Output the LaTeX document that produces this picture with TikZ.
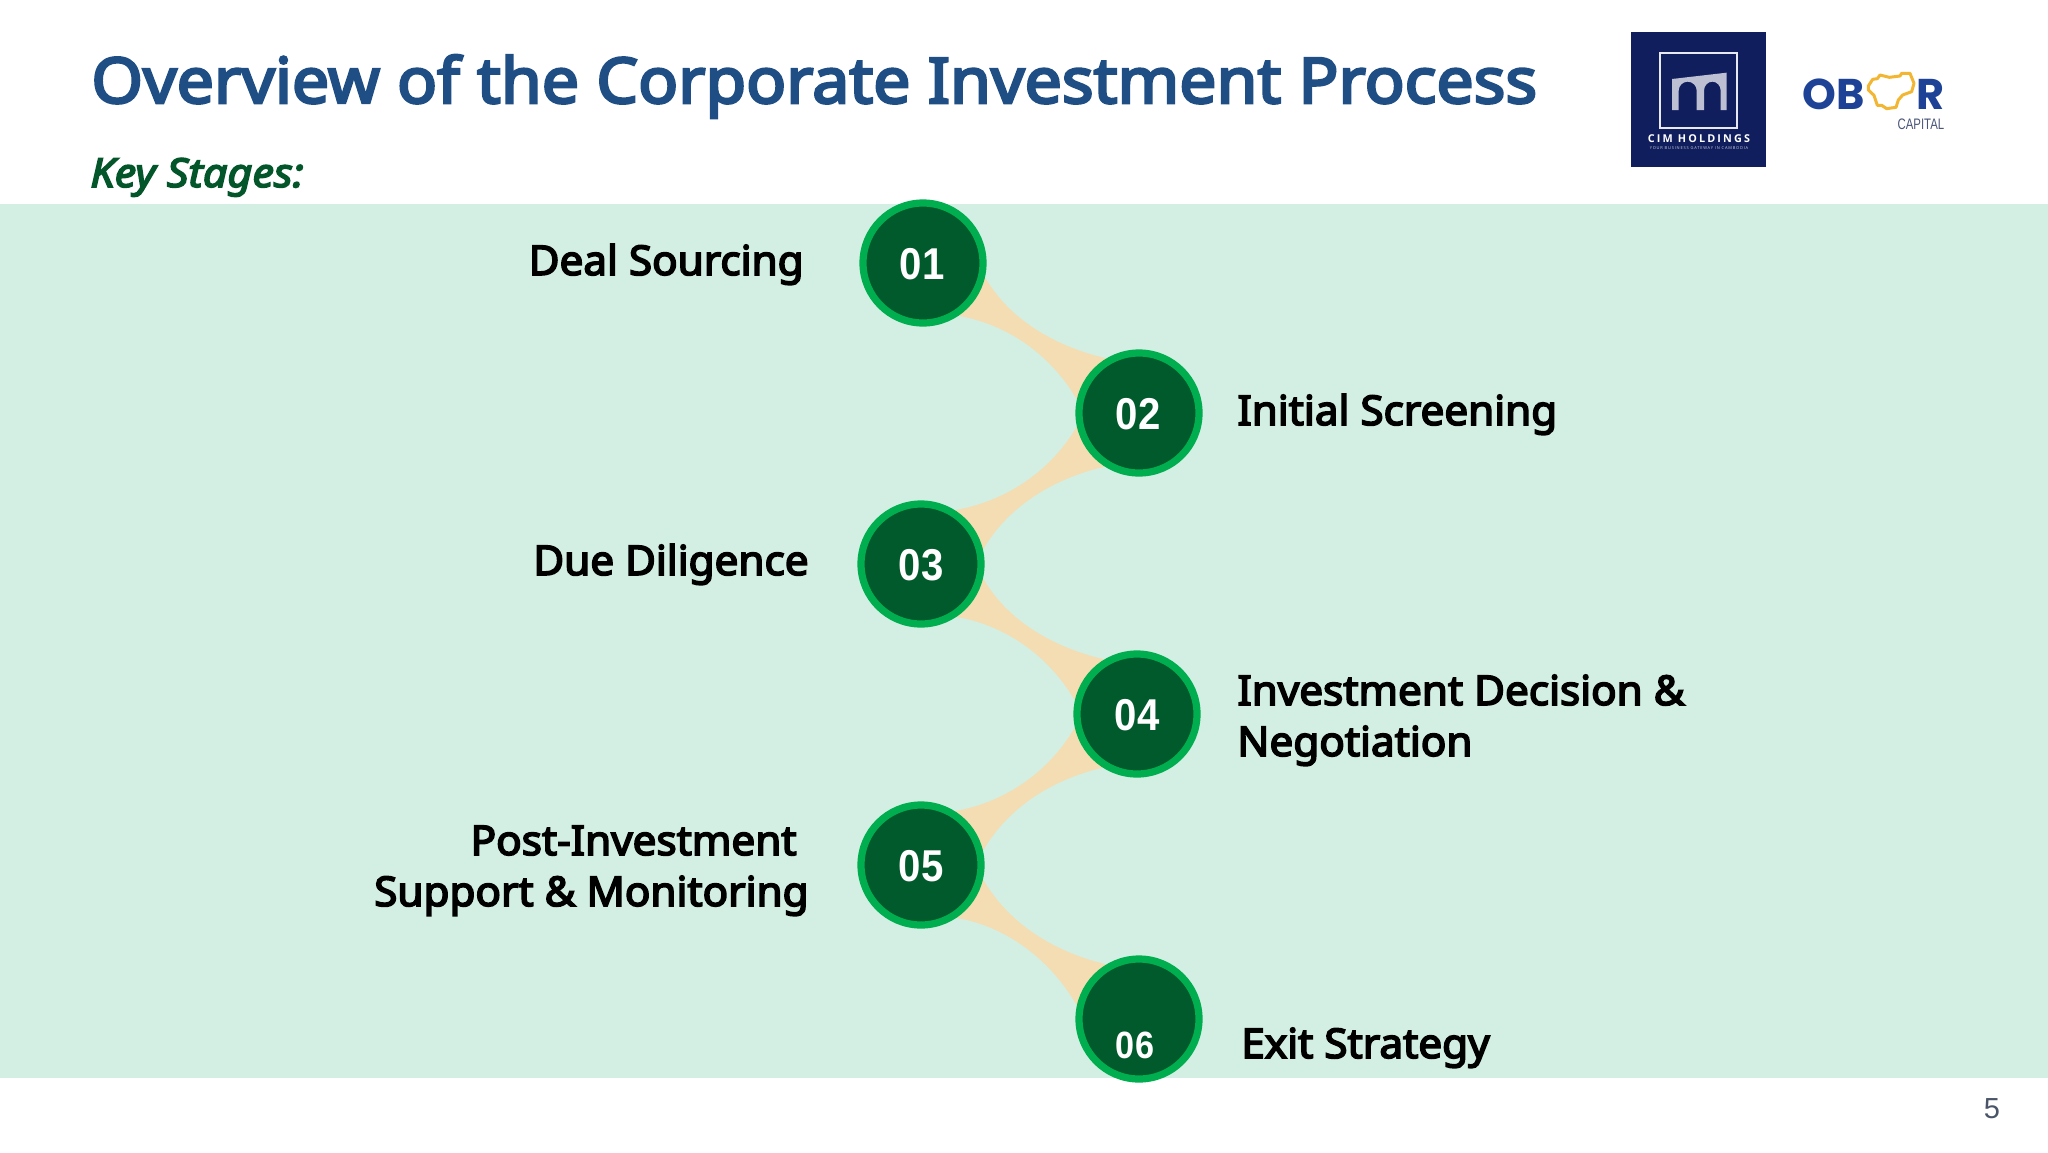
\documentclass[tikz,border=0pt]{standalone}
\usepackage{fontspec}
\setmainfont{Noto Sans}
\newfontfamily\titlef[FakeBold=4,FakeStretch=1.05]{Noto Sans}
\newfontfamily\lblf[FakeBold=4,FakeStretch=1.03]{Noto Sans}
\newfontfamily\keyf[FakeBold=4,FakeStretch=1.08,ItalicFeatures={FakeBold=4,FakeStretch=1.08}]{Noto Sans}
\newfontfamily\arialf{Liberation Sans}
\newfontfamily\numf[FakeStretch=0.9]{Liberation Sans}
\newfontfamily\capf[FakeStretch=0.75]{Liberation Sans}
\newfontfamily\popf{Poppins}
\newfontfamily\cimf[LetterSpace=20]{Open Sans}
\usetikzlibrary{backgrounds}
\definecolor{bandc}{HTML}{D3EFE3}
\definecolor{darkg}{HTML}{005A2B}
\definecolor{ringg}{HTML}{00AE50}
\definecolor{linkc}{HTML}{F4DDB2}
\definecolor{titlec}{HTML}{1F4E85}
\definecolor{keyc}{HTML}{03562A}
\definecolor{navyc}{HTML}{101E5E}
\definecolor{oborb}{HTML}{1D4296}
\definecolor{oborg}{HTML}{F2B632}
\definecolor{capc}{HTML}{4A5578}
\definecolor{pagec}{HTML}{4A5568}
\tikzset{
 stage/.style={circle,draw=ringg,fill=darkg,line width=3.6pt,minimum size=60pt,inner sep=0pt,outer sep=0pt},
 stagenum/.style={font=\numf\bfseries\fontsize{22.3}{24}\selectfont,text=white,inner sep=0pt,anchor=center},
 lbl/.style={font=\lblf\fontsize{20.5}{25.5}\selectfont,text=black,inner sep=0pt,anchor=base west,align=left},
 lblr/.style={lbl,anchor=base east,align=right},
 link/.style={fill=linkc,draw=none}
}
\begin{document}
\begin{tikzpicture}[x=0.5pt,y=-0.5pt]
\useasboundingbox (0,0) rectangle (2048,1152);
\node[stage] (c1) at (923,263) {};
\node[stage] (c2) at (1139,413) {};
\node[stage] (c3) at (921,564) {};
\node[stage] (c4) at (1137,714) {};
\node[stage] (c5) at (921,865) {};
\node[stage] (c6) at (1139,1019) {};
\node[stagenum] (n1) at (922,264) {01};
\node[stagenum] (n2) at (1138,414) {02};
\node[stagenum] (n3) at (921,565) {03};
\node[stagenum] (n4) at (1137,715) {04};
\node[stagenum] (n5) at (921,866) {05};
\node[stagenum,font=\numf\bfseries\fontsize{19}{22}\selectfont] (n6) at (1135,1045) {06};
\begin{scope}[on background layer]
\fill[white] (0,0) rectangle (2048,1152);
\fill[bandc] (0,204) rectangle (2048,1078);
\foreach \a/\b in {c1/c2,c3/c4,c5/c6}{
 \fill[link] (\a.-9) to[out=-62,in=168,looseness=0.9] (\b.117) -- (\b.172) to[out=118,in=-8,looseness=0.9] (\a.-60) -- (\a.center) -- cycle;
}
\foreach \a/\b in {c2/c3,c4/c5}{
 \fill[link] (\a.188) to[out=-118,in=8,looseness=0.9] (\b.62) -- (\b.9) to[out=62,in=-168,looseness=0.9] (\a.-119) -- (\a.center) -- cycle;
}
\end{scope}
\node[font=\titlef\fontsize{31.5}{36}\selectfont,text=titlec,inner sep=0pt,anchor=base west] (title) at (91,103) {Overview of the Corporate Investment Process};
\node[font=\keyf\itshape\fontsize{20}{24}\selectfont,text=keyc,inner sep=0pt,anchor=base west] (key) at (90,187) {Key Stages:};
\node[lblr] (l1) at (804,275) {Deal Sourcing};
\node[lbl] (l2) at (1237,425) {Initial Screening};
\node[lblr] (l3) at (809,575) {Due Diligence};
\node[lbl,anchor=base west] (l4) at (1237,756) {Investment Decision \&\\Negotiation};
\node[lblr] (l5a) at (797,855) {Post-Investment};
\node[lblr] (l5b) at (809,906) {Support \& Monitoring};
\node[lbl] (l6) at (1241,1058) {Exit Strategy};
\node[font=\arialf\fontsize{14.5}{16}\selectfont,text=pagec,inner sep=0pt,anchor=center] (pg) at (1992,1109) {5};
% logos
\begin{scope}[shift={(1600,20)},x=1/6*1pt,y=-1/6*1pt]
\fill[navyc] (93,37) rectangle (497,440);
\draw[white!90!navyc,line width=1pt] (181,98) rectangle (410,325);
\fill[white!72!navyc] (216,177) -- (380,158) -- (380,270) -- (362,270) -- (362,212) arc[start angle=0,end angle=-180,x radius=25,y radius=27] -- (312,270) -- (290,270) -- (290,212) arc[start angle=0,end angle=-180,x radius=27,y radius=27] -- (236,270) -- (216,270) -- cycle;
\node[font=\cimf\bfseries\fontsize{5.4}{6}\selectfont,text=white,inner sep=0pt] (cim) at (297,356) {CIM HOLDINGS};
\node[font=\cimf\fontsize{2}{3}\selectfont,text=white!80!navyc,inner sep=0pt] (tag) at (297,384) {YOUR BUSINESS GATEWAY IN CAMBODIA};
\draw[oborg,line width=1.5pt,line join=round] (805,198) -- (818,178) -- (832,176) -- (840,165) -- (868,172) -- (900,168) -- (905,160) -- (930,160) -- (942,190) -- (935,215) -- (908,225) -- (895,240) -- (888,262) -- (860,266) -- (845,256) -- (832,256) -- (822,226) -- (805,210) -- cycle;
\node[font=\popf\bfseries\fontsize{21.5}{24}\selectfont,text=oborb,inner sep=0pt,anchor=base west] (ob) at (606,268) {OB};
\node[font=\popf\bfseries\fontsize{21.5}{24}\selectfont,text=oborb,inner sep=0pt,anchor=base east] (r) at (1036,268) {R};
\node[font=\capf\fontsize{7.6}{8}\selectfont,text=capc,inner sep=0pt,anchor=base east] (cap) at (1034,327) {CAPITAL};
\end{scope}
\end{tikzpicture}
\end{document}
